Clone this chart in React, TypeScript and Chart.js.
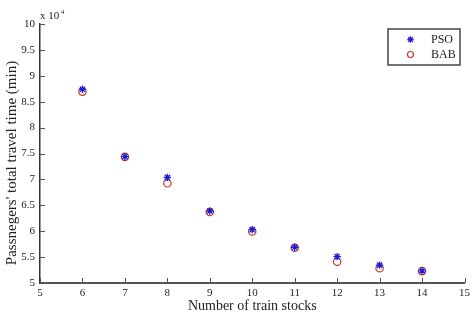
import React, { useEffect, useRef } from "react";
import { Chart, registerables } from "chart.js";

Chart.register(...registerables);

const trainStocks = [6, 7, 8, 9, 10, 11, 12, 13, 14];
const psoValues = [87400, 74400, 70400, 63900, 60300, 56900, 55100, 53450, 52350];
const babValues = [86950, 74350, 69250, 63700, 59950, 56800, 54100, 52850, 52300];
const xTicks = [5, 6, 7, 8, 9, 10, 11, 12, 13, 14, 15];
const yTicks = [50000, 55000, 60000, 65000, 70000, 75000, 80000, 85000, 90000, 95000, 100000];
const seriesLabels = ["PSO", "BAB"];
const xTitle = "Number of train stocks";
const yTitle = "Passnegers' total travel time (min)";

const FONT = "'Liberation Serif', 'Times New Roman', serif";
const AXIS = "#555555";
const TEXT = "#222222";

function drawStar(ctx: CanvasRenderingContext2D, x: number, y: number, r: number) {
  ctx.moveTo(x - r, y); ctx.lineTo(x + r, y);
  ctx.moveTo(x, y - r); ctx.lineTo(x, y + r);
  const d = r * Math.SQRT1_2;
  ctx.moveTo(x - d, y - d); ctx.lineTo(x + d, y + d);
  ctx.moveTo(x - d, y + d); ctx.lineTo(x + d, y - d);
}

const decorPlugin = {
  id: "decor",
  afterDraw(chart: any) {
    const ctx = chart.ctx;
    const xs = chart.scales.x;
    const ys = chart.scales.y;
    const { left, bottom } = chart.chartArea;
    ctx.save();
    ctx.strokeStyle = AXIS;
    ctx.lineWidth = 1;
    xTicks.forEach((v) => {
      const px = Math.round(xs.getPixelForValue(v)) + 0.5;
      ctx.beginPath();
      ctx.moveTo(px, bottom);
      ctx.lineTo(px, bottom - 5);
      ctx.stroke();
    });
    yTicks.forEach((v) => {
      const py = Math.round(ys.getPixelForValue(v)) + 0.5;
      ctx.beginPath();
      ctx.moveTo(left, py);
      ctx.lineTo(left + 5, py);
      ctx.stroke();
    });
    // y axis title
    ctx.save();
    ctx.translate(12, 163);
    ctx.rotate(-Math.PI / 2);
    ctx.fillStyle = TEXT;
    ctx.font = `15px ${FONT}`;
    ctx.textAlign = "center";
    ctx.textBaseline = "middle";
    ctx.fillText(yTitle, 0, 0);
    ctx.restore();

    // exponent label
    ctx.fillStyle = TEXT;
    ctx.textBaseline = "alphabetic";
    ctx.textAlign = "left";
    ctx.font = `11px ${FONT}`;
    ctx.fillText("x 10", left, 19);
    const w = ctx.measureText("x 10").width;
    ctx.font = `7px ${FONT}`;
    ctx.fillText("4", left + w + 1.5, 14);

    // legend
    const bx = 388, by = 29, bw = 72, bh = 36;
    ctx.fillStyle = "#ffffff";
    ctx.fillRect(bx, by, bw, bh);
    ctx.strokeStyle = "#444444";
    ctx.lineWidth = 1.5;
    ctx.strokeRect(bx, by, bw, bh);
    const rows = [39.5, 54.5];
    chart.data.datasets.forEach((ds: any, i: number) => {
      const y = rows[i];
      const mx = 410.5;
      ctx.save();
      ctx.strokeStyle = ds.borderColor;
      ctx.lineWidth = ds.borderWidth;
      ctx.beginPath();
      if (ds.pointStyle === "star") {
        drawStar(ctx, mx, y, 3.2);
      } else {
        ctx.arc(mx, y, 3, 0, Math.PI * 2);
      }
      ctx.stroke();
      ctx.restore();
      ctx.fillStyle = TEXT;
      ctx.font = `12px ${FONT}`;
      ctx.textBaseline = "middle";
      ctx.fillText(ds.label, 431, y);
    });
    ctx.restore();
  },
};

export default function App() {
  const ref = useRef<HTMLCanvasElement | null>(null);
  useEffect(() => {
    document.body.style.margin = "0";
    const chart = new Chart(ref.current as HTMLCanvasElement, {
      type: "scatter",
      data: {
        datasets: [
          {
            label: seriesLabels[0],
            data: trainStocks.map((x, i) => ({ x, y: psoValues[i] })),
            pointStyle: "star",
            pointRadius: 3.7,
            borderColor: "#1a1ad8",
            backgroundColor: "#1a1ad8",
            borderWidth: 1.3,
          },
          {
            label: seriesLabels[1],
            data: trainStocks.map((x, i) => ({ x, y: babValues[i] })),
            pointStyle: "circle",
            pointRadius: 3.7,
            borderColor: "#c0392b",
            backgroundColor: "rgba(0,0,0,0)",
            borderWidth: 1.2,
          },
        ] as any,
      },
      options: {
        animation: false,
        responsive: false,
        layout: { padding: { top: 24, right: 9, left: 0, bottom: 0 } },
        plugins: { legend: { display: false }, tooltip: { enabled: false } },
        scales: {
          x: {
            type: "linear",
            min: 5,
            max: 15,
            afterFit: (s: any) => { s.height = 35; },
            grid: { display: true, drawOnChartArea: false, drawTicks: false },
            border: { display: true, color: AXIS, width: 2 },
            ticks: {
              stepSize: 1,
              padding: 4,
              color: TEXT,
              font: { family: FONT, size: 11 },
            },
            title: {
              display: true,
              text: xTitle,
              color: TEXT,
              font: { family: FONT, size: 14 },
              padding: { top: 0, bottom: 3 },
            },
          },
          y: {
            type: "linear",
            min: 50000,
            max: 100000,
            afterFit: (s: any) => { s.width = 40; },
            grid: { display: true, drawOnChartArea: false, drawTicks: false },
            border: { display: true, color: "#333333", width: 1.5 },
            ticks: {
              stepSize: 5000,
              padding: 5,
              color: TEXT,
              font: { family: FONT, size: 11 },
              callback: (v: any) => String(Number(v) / 10000),
            },
          },
        },
      } as any,
      plugins: [decorPlugin],
    });
    return () => chart.destroy();
  }, []);
  return <canvas ref={ref} width={474} height={318} style={{ display: "block" }} />;
}
